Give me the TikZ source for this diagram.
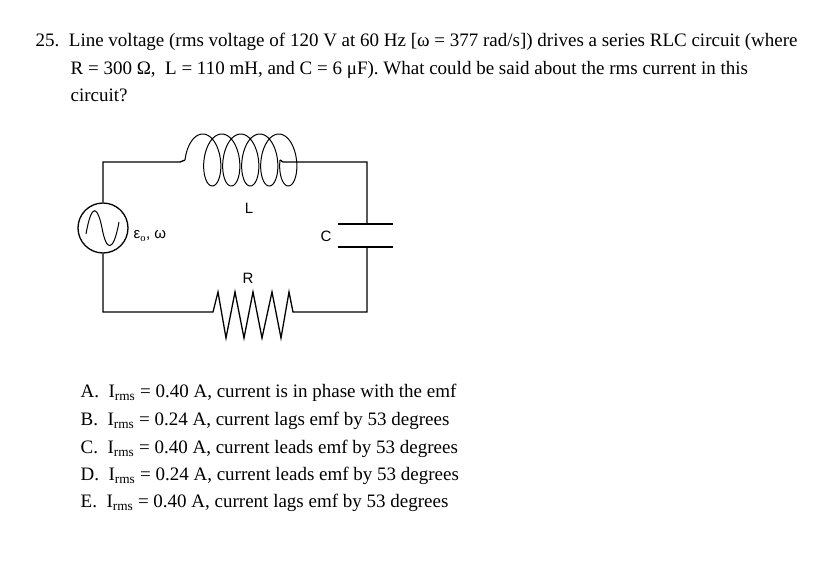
\documentclass[tikz,border=0pt]{standalone}
\usepackage{fontspec}
\setmainfont{Liberation Serif}
\newfontfamily\lsans{Liberation Sans}
\begin{document}
\begin{tikzpicture}[x=1pt,y=-1pt,line width=1.3pt,
  txt/.style={anchor=west,inner sep=0pt,font=\fontsize{19}{22}\selectfont},
  lbl/.style={inner sep=0pt,font=\lsans\fontsize{15}{18}\selectfont}]
\useasboundingbox (0,0) rectangle (839,581);
\node[txt] (t1) at (35,42) {25.\ \ Line voltage (rms voltage of 120 V at 60 Hz [ω = 377 rad/s]) drives a series RLC circuit (where};
\node[txt] (t2) at (70,70) {R = 300 Ω,\ \ L = 110 mH, and C = 6 μF). What could be said about the rms current in this};
\node[txt] (t3) at (70,95) {circuit?};
\node[txt] (a) at (80,393) {A.\ \ I$_{\mathrm{rms}}$ = 0.40 A, current is in phase with the emf};
\node[txt] (b) at (80,421) {B.\ \ I$_{\mathrm{rms}}$ = 0.24 A, current lags emf by 53 degrees};
\node[txt] (c) at (80,449) {C.\ \ I$_{\mathrm{rms}}$ = 0.40 A, current leads emf by 53 degrees};
\node[txt] (d) at (80,476) {D.\ \ I$_{\mathrm{rms}}$ = 0.24 A, current leads emf by 53 degrees};
\node[txt] (e) at (80,503) {E.\ \ I$_{\mathrm{rms}}$ = 0.40 A, current lags emf by 53 degrees};
% source
\node[draw,circle,minimum size=50pt,inner sep=0pt] (src) at (103,228) {};
\draw[line width=1pt] (86,234) .. controls (92,200) and (98,208) .. (102,228) .. controls (106,250) and (113,255) .. (119,222);
\node[lbl,anchor=west] (srcl) at (133,236) {ε$_{\mathrm{o}}$, ω};
\coordinate (tl) at (103,162); \coordinate (bl) at (103,312);
\coordinate (tr) at (367,162); \coordinate (br) at (367,312);
\coordinate (ls) at (180,162); \coordinate (le) at (290,162);
\coordinate (cs1) at (367,224); \coordinate (cs2) at (367,247);
\coordinate (rs) at (213,312); \coordinate (re) at (293,312);
\draw (src.north) -- (tl) -- (ls) -- (185,160);
\draw[line width=1pt] plot[domain=0:1800,samples=300] ({198+0.0528*\x-13*cos(\x)},{160-26*sin(\x)});
\draw (280,160) -- (283,162) -- (le) -- (tr) -- (cs1);
\draw (338,224) -- (393,224); \draw (338,247) -- (393,247);
\draw (cs2) -- (br) -- (re) -- (289,292) -- (281,338) -- (272,292) -- (262,338) -- (253,292) -- (244,338) -- (235,292) -- (226,338) -- (218,292) -- (rs) -- (bl) -- (src.south);
\node[lbl] (Ll) at (249,208) {L};
\node[lbl] (Cl) at (326,236) {C};
\node[lbl] (Rl) at (248,278) {R};
\end{tikzpicture}
\end{document}
